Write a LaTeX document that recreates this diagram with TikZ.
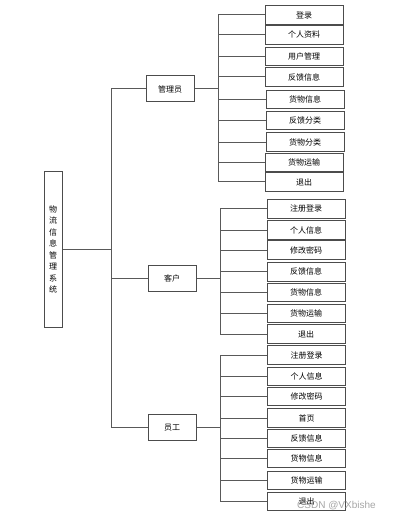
\documentclass[tikz,border=0pt]{standalone}
\usepackage{fontspec}
\usepackage{xcolor}
\usepackage{tikz}
\newfontfamily\cjk{Noto Sans CJK SC}
\newfontfamily\wmfont{Liberation Sans}

\begin{document}
\begin{tikzpicture}[
    x=1pt, y=-1pt,
    leaf/.style={rectangle, draw=black!70, fill=white, line width=1pt, minimum width=78pt, minimum height=18.5pt, inner sep=0pt, font=\cjk\fontsize{8}{10}\selectfont},
    role/.style={rectangle, draw=black!70, fill=white, line width=1pt, minimum width=48pt, minimum height=26pt, inner sep=0pt, font=\cjk\fontsize{8}{10}\selectfont},
    sysbox/.style={rectangle, draw=black!70, fill=white, line width=1pt, minimum width=18pt, minimum height=155pt, inner sep=0pt, align=center, font=\cjk\fontsize{8}{11.5}\selectfont},
    link/.style={draw=black!65, line width=1pt}
]
    \useasboundingbox (0,0) rectangle (406,521);

    % System
    \node[sysbox] (root) at (53,249.5) {物\\流\\信\\息\\管\\理\\系\\统};

    % Roles
    \node[role] (admin) at (170,89) {管理员};
    \node[role] (customer) at (172,278) {客户};
    \node[role] (staff) at (172,427.5) {员工};

    % Admin functions
    \node[leaf] (a1) at (304,15) {登录};
    \node[leaf] (a2) at (304,34.8) {个人资料};
    \node[leaf] (a3) at (304,56.5) {用户管理};
    \node[leaf] (a4) at (304,77) {反馈信息};
    \node[leaf] (a5) at (305,99.5) {货物信息};
    \node[leaf] (a6) at (305,120.3) {反馈分类};
    \node[leaf] (a7) at (305,142.2) {货物分类};
    \node[leaf] (a8) at (304,162.7) {货物运输};
    \node[leaf] (a9) at (304,182) {退出};

    % Customer functions
    \node[leaf] (c1) at (306,208.8) {注册登录};
    \node[leaf] (c2) at (306,230) {个人信息};
    \node[leaf] (c3) at (306,250.2) {修改密码};
    \node[leaf] (c4) at (306,271.8) {反馈信息};
    \node[leaf] (c5) at (306,292.5) {货物信息};
    \node[leaf] (c6) at (306,313.7) {货物运输};
    \node[leaf] (c7) at (306,334.2) {退出};

    % Staff functions
    \node[leaf] (s1) at (306.5,355.2) {注册登录};
    \node[leaf] (s2) at (306.5,376.5) {个人信息};
    \node[leaf] (s3) at (306.5,396.5) {修改密码};
    \node[leaf] (s4) at (306.5,418.2) {首页};
    \node[leaf] (s5) at (306.5,438.5) {反馈信息};
    \node[leaf] (s6) at (306.5,458.7) {货物信息};
    \node[leaf] (s7) at (306.5,480.5) {货物运输};
    \node[leaf] (s8) at (306.5,501.3) {退出};

    % Buses
    \coordinate (trunk) at (111,0);
    \coordinate (abus) at (218,0);
    \coordinate (cbus) at (220,0);
    \coordinate (sbus) at (220,0);

    % System to roles
    \draw[link] (root) -- (trunk |- root);
    \draw[link] (trunk |- admin) -- (trunk |- staff);
    \draw[link] (trunk |- admin) -- (admin);
    \draw[link] (trunk |- customer) -- (customer);
    \draw[link] (trunk |- staff) -- (staff);

    % Admin links
    \draw[link] (admin) -- (abus |- admin);
    \draw[link] (abus |- a1) -- (abus |- a9);
    \draw[link] (abus |- a1) -- (a1);
    \draw[link] (abus |- a2) -- (a2);
    \draw[link] (abus |- a3) -- (a3);
    \draw[link] (abus |- a4) -- (a4);
    \draw[link] (abus |- a5) -- (a5);
    \draw[link] (abus |- a6) -- (a6);
    \draw[link] (abus |- a7) -- (a7);
    \draw[link] (abus |- a8) -- (a8);
    \draw[link] (abus |- a9) -- (a9);

    % Customer links
    \draw[link] (customer) -- (cbus |- customer);
    \draw[link] (cbus |- c1) -- (cbus |- c7);
    \draw[link] (cbus |- c1) -- (c1);
    \draw[link] (cbus |- c2) -- (c2);
    \draw[link] (cbus |- c3) -- (c3);
    \draw[link] (cbus |- c4) -- (c4);
    \draw[link] (cbus |- c5) -- (c5);
    \draw[link] (cbus |- c6) -- (c6);
    \draw[link] (cbus |- c7) -- (c7);

    % Staff links
    \draw[link] (staff) -- (sbus |- staff);
    \draw[link] (sbus |- s1) -- (sbus |- s8);
    \draw[link] (sbus |- s1) -- (s1);
    \draw[link] (sbus |- s2) -- (s2);
    \draw[link] (sbus |- s3) -- (s3);
    \draw[link] (sbus |- s4) -- (s4);
    \draw[link] (sbus |- s5) -- (s5);
    \draw[link] (sbus |- s6) -- (s6);
    \draw[link] (sbus |- s7) -- (s7);
    \draw[link] (sbus |- s8) -- (s8);

    % Watermark
    \node[text=black!35, font=\wmfont\fontsize{10}{12}\selectfont, anchor=west, inner sep=0pt] (mark) at (297,505.7) {CSDN @VXbishe};
\end{tikzpicture}
\end{document}
